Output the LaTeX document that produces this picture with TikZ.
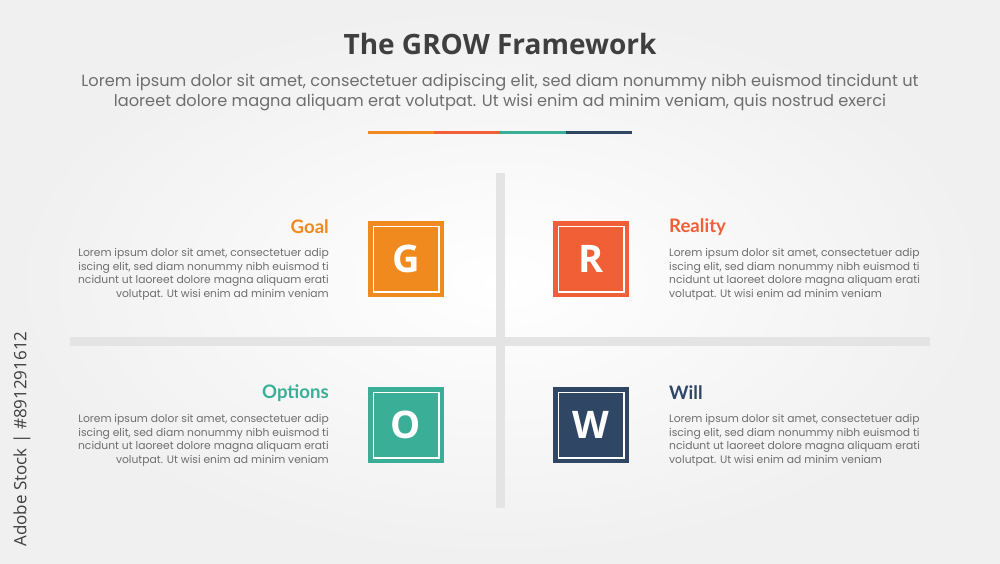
\documentclass[tikz,border=0pt]{standalone}
\usepackage{fontspec}
\newfontfamily\popfont{Poppins}
\newfontfamily\titlefont{Open Sans}
\newfontfamily\headfont{Lato}
\definecolor{cgoal}{HTML}{F08A1E}
\definecolor{creal}{HTML}{F15F36}
\definecolor{copt}{HTML}{3AAE96}
\definecolor{cwill}{HTML}{2F4665}
\definecolor{ctext}{HTML}{6E6E6E}
\definecolor{ctitle}{HTML}{3F3F3F}
\definecolor{cline}{HTML}{E4E4E4}
\begin{document}
\begin{tikzpicture}[x=1pt,y=-1pt,
  letterbox/.style={minimum width=76pt,minimum height=76pt,inner sep=0pt,text=white,
     font=\titlefont\bfseries\fontsize{38}{38}\selectfont},
  innerframe/.style={draw=white,line width=1.6pt},
  head/.style={font=\headfont\bfseries\fontsize{18.6}{20}\selectfont,inner sep=0pt},
  body/.style={font=\popfont\fontsize{10.75}{13.4}\selectfont,text=ctext,inner sep=0pt},
  axis/.style={cline,line width=9pt}]
\useasboundingbox (0,0) rectangle (1000,563);
\shade[inner color=white,outer color=gray!12] (0,0) rectangle (1000,563);
% title
\node[font=\titlefont\bfseries\fontsize{28}{30}\selectfont,text=ctitle] (title) at (500,44) {The GROW Framework};
\node[font=\popfont\fontsize{16.2}{20}\selectfont,text=ctext,align=center] (sub) at (500,93)
 {Lorem ipsum dolor sit amet, consectetuer adipiscing elit, sed diam nonummy nibh euismod tincidunt ut\\
  laoreet dolore magna aliquam erat volutpat. Ut wisi enim ad minim veniam, quis nostrud exerci};
% color bar
\fill[cgoal] (368,130.5) rectangle (434,134);
\fill[creal] (434,130.5) rectangle (500,134);
\fill[copt] (500,130.5) rectangle (566,134);
\fill[cwill] (566,130.5) rectangle (632,134);
% axes
\coordinate (vt) at (500,173);
\coordinate (vb) at (500,508);
\coordinate (hl) at (70,341);
\coordinate (hr) at (930,341);
\draw[axis] (vt) -- (vb);
\draw[axis] (hl) -- (hr);
% boxes
\node[letterbox,fill=cgoal] (G) at (406,259) {G};
\node[letterbox,fill=creal] (R) at (591,259) {R};
\node[letterbox,fill=copt] (O) at (406,425) {O};
\node[letterbox,fill=cwill] (W) at (591,425) {W};
\foreach \n in {G,R,O,W}{
  \draw[innerframe] ([shift={(5.5,5.5)}]\n.north west) rectangle ([shift={(-5.5,-5.5)}]\n.south east);
}
% headings
\node[head,text=cgoal,anchor=east] (hG) at (329,227) {Goal};
\node[head,text=creal,anchor=west] (hR) at (669,227) {Reality};
\node[head,text=copt,anchor=east] (hO) at (329,393) {Options};
\node[head,text=cwill,anchor=west] (hW) at (669,393) {Will};
% bodies
\node[body,anchor=north east,align=right] (bG) at (329,248.5)
 {Lorem ipsum dolor sit amet, consectetuer adip\\iscing elit, sed diam nonummy nibh euismod ti\\ncidunt ut laoreet dolore magna aliquam erati\\volutpat. Ut wisi enim ad minim veniam};
\node[body,anchor=north west,align=left] (bR) at (669,248.5)
 {Lorem ipsum dolor sit amet, consectetuer adip\\iscing elit, sed diam nonummy nibh euismod ti\\ncidunt ut laoreet dolore magna aliquam erati\\volutpat. Ut wisi enim ad minim veniam};
\node[body,anchor=north east,align=right] (bO) at (329,414.5)
 {Lorem ipsum dolor sit amet, consectetuer adip\\iscing elit, sed diam nonummy nibh euismod ti\\ncidunt ut laoreet dolore magna aliquam erati\\volutpat. Ut wisi enim ad minim veniam};
\node[body,anchor=north west,align=left] (bW) at (669,414.5)
 {Lorem ipsum dolor sit amet, consectetuer adip\\iscing elit, sed diam nonummy nibh euismod ti\\ncidunt ut laoreet dolore magna aliquam erati\\volutpat. Ut wisi enim ad minim veniam};
% side label
\node[font=\titlefont\fontsize{17}{17}\selectfont,text=ctitle,rotate=90] (side) at (22,439) {Adobe Stock | \#891291612};
\end{tikzpicture}
\end{document}
